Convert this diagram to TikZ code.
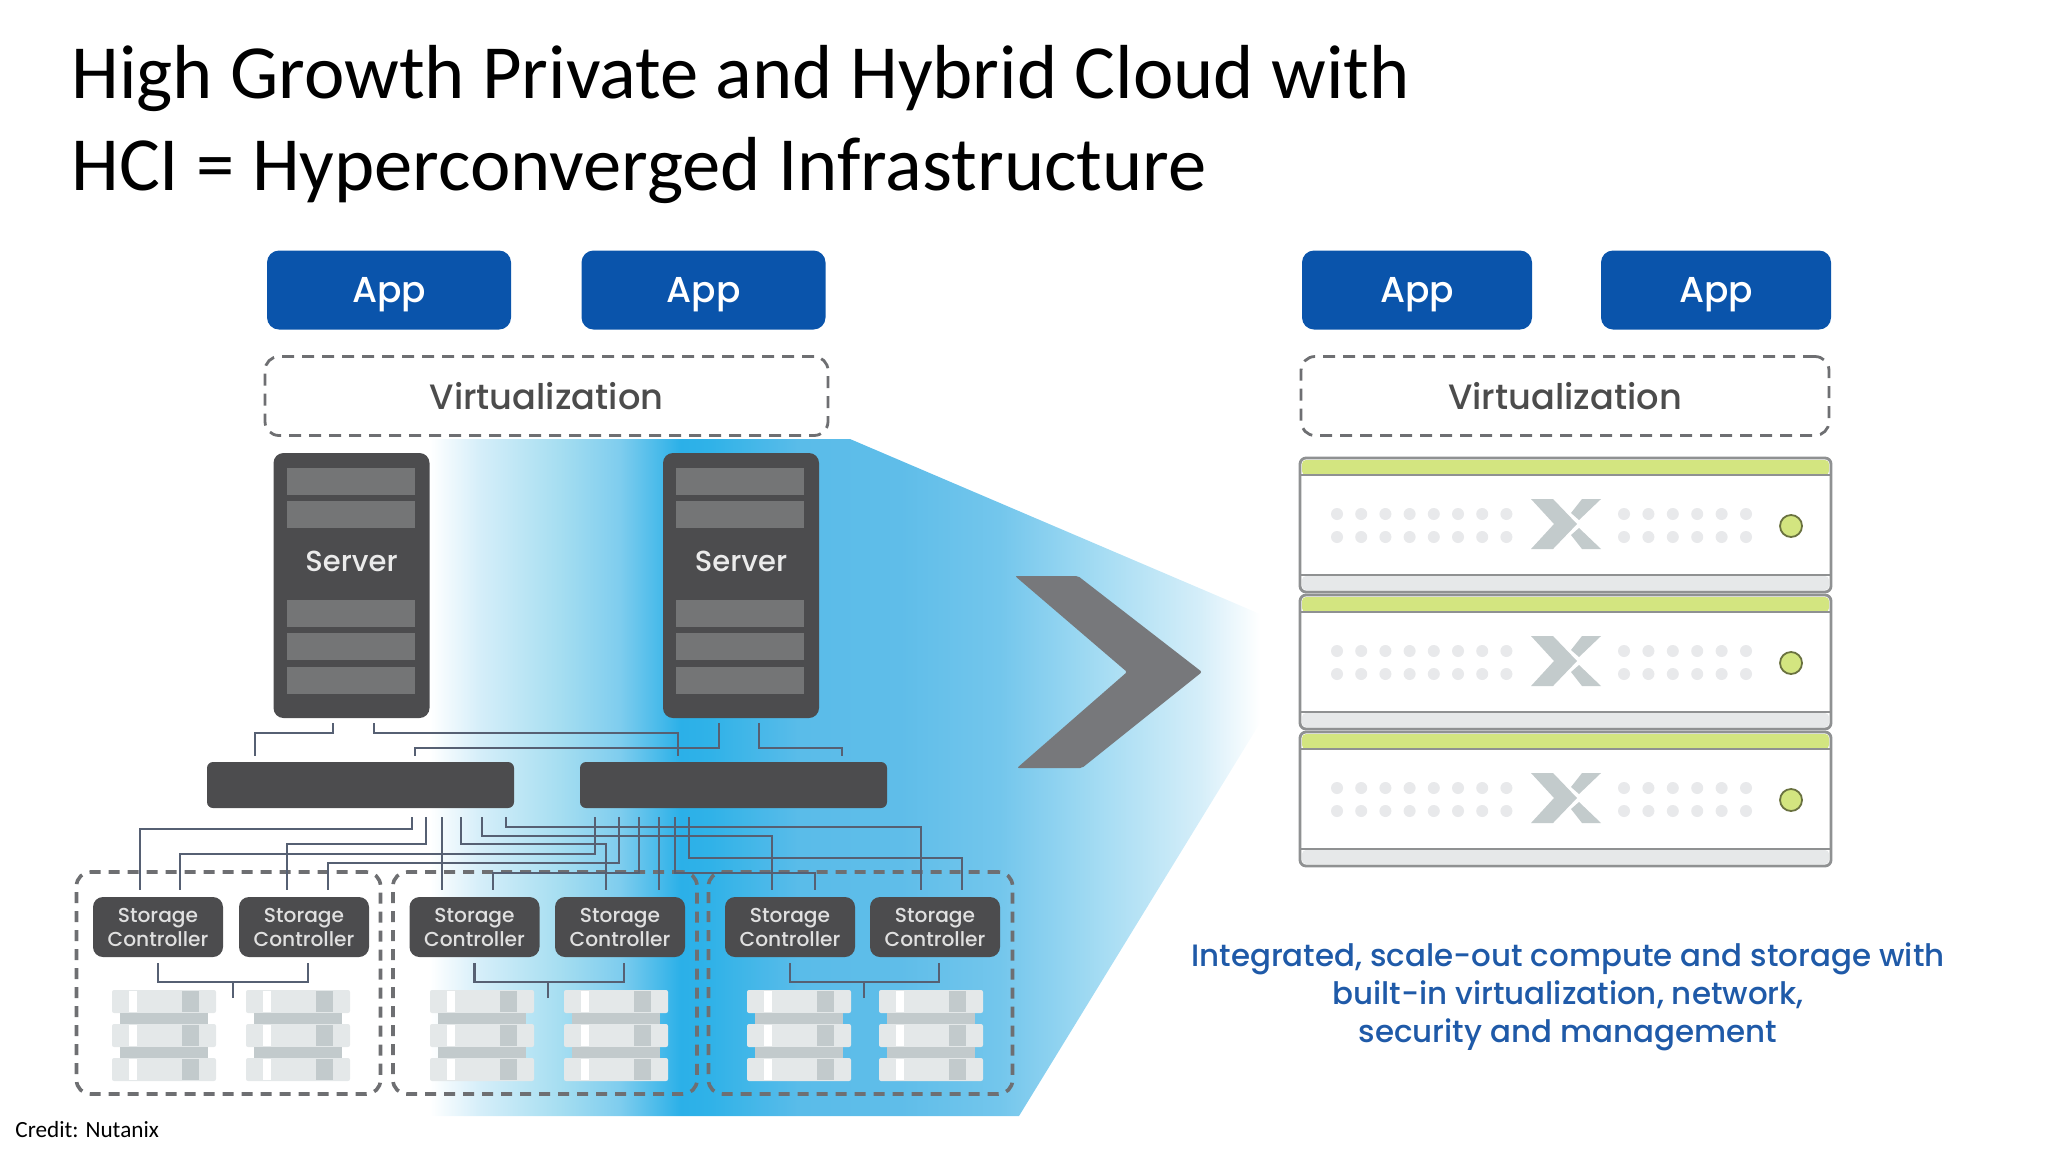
\documentclass[tikz,border=0pt]{standalone}
\usepackage{fontspec}
\setmainfont{Carlito}
\newfontfamily\diagfont{Poppins Medium}
\definecolor{app_blue}{HTML}{0A54AB}
\definecolor{box_dark}{HTML}{4C4C4E}
\definecolor{slot_gray}{HTML}{747576}
\definecolor{dash_gray}{HTML}{6E6F72}
\definecolor{link_gray}{HTML}{566073}
\definecolor{arrow_gray}{HTML}{77787B}
\definecolor{caption_blue}{HTML}{1F5AA8}
\definecolor{disk_light}{HTML}{E4E8E9}
\definecolor{disk_mid}{HTML}{C2CACC}
\definecolor{rack_line}{HTML}{8F9192}
\definecolor{rack_green}{HTML}{D3E580}
\definecolor{rack_foot}{HTML}{E6E8E9}
\definecolor{rack_dot}{HTML}{E8E9EB}
\definecolor{logo_gray}{HTML}{C3CBCC}
\definecolor{fade_a}{HTML}{D5EEF9}
\definecolor{fade_b}{HTML}{A6DEF1}
\definecolor{fade_c}{HTML}{7FCDEE}
\definecolor{fade_d}{HTML}{2BB0E8}
\definecolor{fade_e}{HTML}{30B2E8}
\definecolor{fade_f}{HTML}{5ABCE9}
\definecolor{fade_g}{HTML}{5FBDE9}
\definecolor{fade_h}{HTML}{73C6EC}
\definecolor{fade_i}{HTML}{A5DCF3}
\pgfdeclarehorizontalshading{cloud_fade}{100bp}{
  color(0bp)=(white); color(25bp)=(white); color(28bp)=(fade_a); color(32.8bp)=(fade_b);
  color(36.4bp)=(fade_c); color(40.1bp)=(fade_d); color(41.9bp)=(fade_e); color(47.3bp)=(fade_f);
  color(53.3bp)=(fade_g); color(59.3bp)=(fade_h); color(65.4bp)=(fade_i); color(71.4bp)=(fade_a);
  color(75bp)=(white); color(100bp)=(white)}
\tikzset{
  flat_box/.style = {inner sep=0, outer sep=0},
  slide_title/.style = {anchor=base west, inner sep=0, font=\fontsize{38.3}{45}\selectfont},
  credit/.style = {anchor=base west, inner sep=0, font=\fontsize{11.6}{14}\selectfont},
  app_box/.style = {flat_box, fill=app_blue, rounded corners=6pt, minimum height=39.5pt,
    text height=14pt, text depth=2pt, text=white, font=\diagfont\fontsize{18}{20}\selectfont},
  virt_box/.style = {flat_box, draw=dash_gray, line width=1.4pt, dash pattern=on 6pt off 4pt,
    rounded corners=7pt, minimum height=39.5pt, text=black!70, font=\diagfont\fontsize{17.6}{20}\selectfont},
  server_box/.style = {flat_box, fill=box_dark, rounded corners=5pt, minimum width=78pt, minimum height=132.5pt},
  server_text/.style = {flat_box, text=white!92!black, font=\diagfont\fontsize{14.5}{16}\selectfont},
  switch_box/.style = {flat_box, fill=box_dark, rounded corners=3pt, minimum width=153.5pt, minimum height=23pt},
  ctl_box/.style = {flat_box, fill=box_dark, rounded corners=5pt, minimum width=65pt, minimum height=30pt,
    align=center, text=white!88!black, font=\diagfont\fontsize{10.1}{12}\selectfont},
  pool_box/.style = {flat_box, draw=dash_gray, line width=1.8pt, dash pattern=on 5.5pt off 4pt,
    rounded corners=7pt, minimum width=152pt, minimum height=111pt},
  link/.style = {draw=link_gray, line width=1.4pt},
  rack_box/.style = {flat_box, fill=white, draw=rack_line, line width=1.4pt, rounded corners=3pt,
    minimum width=265.5pt, minimum height=67pt},
  caption/.style = {flat_box, align=center, text=caption_blue, font=\diagfont\fontsize{15.45}{19}\selectfont}
}
\begin{document}
\begin{tikzpicture}[x=0.5pt, y=-0.5pt]
    \useasboundingbox (0,0) rectangle (2048,1152);

    % Fade behind the cluster
    \path[shading=cloud_fade] (430,439) -- (850,439) -- (1260,614) -- (1260,723)
        -- (1019,1116) -- (430,1116) -- cycle;
    \fill[arrow_gray, rounded corners=1pt] (1015,576) -- (1078,576) -- (1202,672)
        -- (1082,768) -- (1017,768) -- (1127,672) -- cycle;

    % Title and credit
    \node[slide_title] at (71,98) (title_1) {High Growth Private and Hybrid Cloud with};
    \node[slide_title] at (71,190) (title_2) {HCI = Hyperconverged Infrastructure};
    \node[credit] at (15,1137) (credit_line) {Credit: Nutanix};

    % Apps and virtualization
    \node[app_box, minimum width=122pt] at (389,290) (app_1) {App};
    \node[app_box, minimum width=122pt] at (703.5,290) (app_2) {App};
    \node[app_box, minimum width=115pt] at (1417,290) (app_3) {App};
    \node[app_box, minimum width=115pt] at (1716,290) (app_4) {App};
    \node[virt_box, minimum width=281.5pt] at (546.5,396) (virt_1) {Virtualization};
    \node[virt_box, minimum width=264pt] at (1565,396) (virt_2) {Virtualization};

    % Servers
    \foreach \i/\x in {1/351.5, 2/741} {
        \node[server_box] at (\x,585.5) (srv_\i) {};
        \node[server_text] at ([yshift=12pt]srv_\i.center) (srv_text_\i) {Server};
        \foreach \top in {468,501,600,633,667}
            \fill[slot_gray] (\x-65,\top) rectangle (\x+63,\top+27);
    }

    % Switches
    \node[switch_box] at (360.5,785) (sw_1) {};
    \node[switch_box] at (733.5,785) (sw_2) {};

    % Storage pools
    \node[pool_box] at (228.5,983) (pool_1) {};
    \node[pool_box] at (545,983) (pool_2) {};
    \node[pool_box] at (860.5,983) (pool_3) {};

    % Controllers
    \node[ctl_box] at (158,927) (ctl_1) {Storage\\Controller};
    \node[ctl_box] at (304,927) (ctl_2) {Storage\\Controller};
    \node[ctl_box] at (474.5,927) (ctl_3) {Storage\\Controller};
    \node[ctl_box] at (620,927) (ctl_4) {Storage\\Controller};
    \node[ctl_box] at (790,927) (ctl_5) {Storage\\Controller};
    \node[ctl_box] at (935,927) (ctl_6) {Storage\\Controller};

    % Disks
    \foreach \x in {112,246,430,564,747,879} {
        \foreach \top in {990,1024,1058} {
            \fill[disk_light, rounded corners=1pt] (\x,\top) rectangle (\x+104,\top+23);
            \fill[white] (\x+17,\top+1) rectangle (\x+25,\top+22);
            \fill[disk_mid] (\x+70,\top+1) rectangle (\x+87,\top+22);
        }
        \foreach \top in {1013,1047}
            \fill[disk_mid] (\x+8,\top) rectangle (\x+96,\top+11);
    }

    % Arrows and lines
    \foreach \n/\sx/\d/\cx in {a/333/10/255, b/374/10/678, c/719/25/415, d/759/25/842} {
        \coordinate (srv_port_\n) at (\sx,723);
        \coordinate (sw_top_\n) at (\cx,756);
        \draw[link] (srv_port_\n) -- ++(0,\d) -| (sw_top_\n);
    }
    \foreach \n/\sx/\d/\cx in {a/412/12/140, b/426/27/287, c/442/0/442, d/461/27/606,
                               e/482/19/772, f/506/10/921, g/595/37/180, h/619/46/328,
                               i/639/56/493, j/659/0/659, k/675/56/815, l/689/41/962} {
        \coordinate (sw_port_\n) at (\sx,817);
        \coordinate (ctl_port_\n) at (\cx,890);
        \draw[link] (sw_port_\n) -- ++(0,\d) -| (ctl_port_\n);
    }
    \foreach \i/\a/\b/\s in {1/1/2/233, 2/3/4/548, 3/5/6/864} {
        \coordinate (br_left_\i) at (ctl_\a.south |- 0,963);
        \coordinate (br_right_\i) at ([xshift=2pt]ctl_\b.south |- 0,963);
        \coordinate (stem_\i) at (\s,998);
        \draw[link] (br_left_\i) -- ++(0,19) -| (br_right_\i);
        \draw[link] (stem_\i) -- ++(0,-16);
    }

    % Racks
    \foreach \r/\top in {1/458, 2/595, 3/732} {
        \begin{scope}[shift={(1300,\top)}]
            \node[rack_box] at (265.5,67) (rack_\r) {};
            \fill[rack_green, rounded corners=2pt] (2,2) rectangle (529,17);
            \draw[rack_line, line width=1pt] (1,17) -- (530,17);
            \fill[rack_foot, rounded corners=2pt] (2,118) rectangle (529,132);
            \draw[rack_line, line width=1.4pt] (1,117) -- (530,117);
            \foreach \y in {56,79} {
                \foreach \k in {0,...,7}
                    \fill[rack_dot] ({37+24.2*\k},\y) circle[radius=3pt];
                \foreach \k in {0,...,5}
                    \fill[rack_dot] ({324+24.4*\k},\y) circle[radius=3pt];
            }
            \begin{scope}[shift={(266,66)}]
                \fill[logo_gray] (-35,-25) -- (-13,-25) -- (11,0) -- (-13,25) -- (-35,25) -- (-12,0) -- cycle;
                \fill[logo_gray] (35,-25) -- (16,-25) -- (5,-11) -- (13,-4) -- cycle;
                \fill[logo_gray] (35,25) -- (16,25) -- (5,11) -- (13,4) -- cycle;
            \end{scope}
            \filldraw[fill=rack_green, draw=black!50!rack_green, line width=0.9pt] (491,68) circle[radius=5.5pt];
        \end{scope}
    }

    % Caption
    \node[caption] at (1568,996.5) (caption_text) {Integrated, scale-out compute and storage with\\
        built-in virtualization, network,\\
        security and management};
\end{tikzpicture}
\end{document}
